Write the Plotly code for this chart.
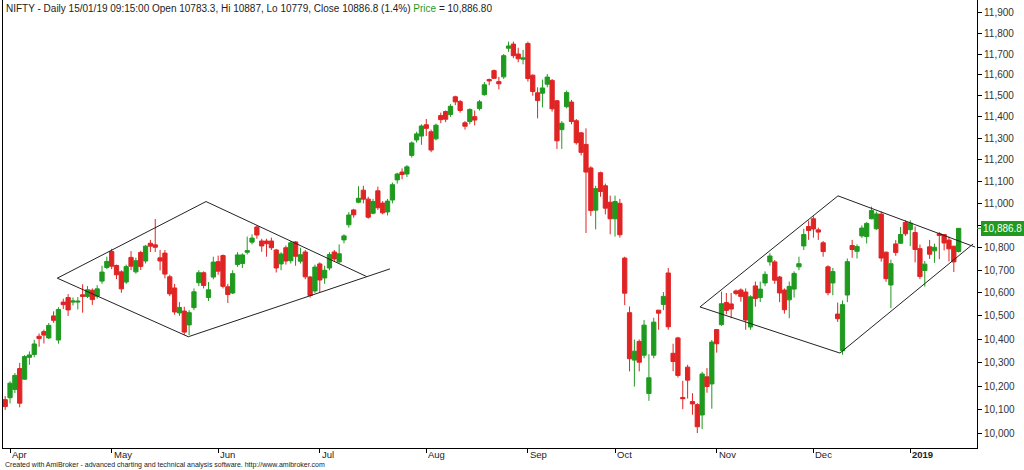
import numpy as np
import pandas as pd
import plotly.graph_objects as go

# ---------------- data ----------------
holidays = ["2018-03-29", "2018-03-30", "2018-05-01", "2018-08-15", "2018-08-22",
            "2018-09-13", "2018-09-20", "2018-10-02", "2018-10-18", "2018-11-08",
            "2018-11-23", "2018-12-25"]
dates = [d for d in pd.bdate_range("2018-03-28", "2019-01-15")
         if d.strftime("%Y-%m-%d") not in holidays]

opens = [
    10143, 10151, 10186, 10274, 10229, 10322, 10334, 10412, 10432, 10405,
    10500, 10396, 10560, 10580, 10560, 10560, 10592, 10585, 10612, 10586,
    10652, 10712, 10783, 10721, 10693, 10648, 10757, 10693, 10779, 10741,
    10820, 10813, 10755, 10776, 10671, 10622, 10513, 10521, 10461, 10536,
    10645, 10689, 10580, 10670, 10738, 10765, 10627, 10600, 10725, 10730,
    10780, 10825, 10893, 10830, 10830, 10830, 10790, 10728, 10800, 10742,
    10826, 10740, 10781, 10670, 10609, 10728, 10666, 10710, 10781, 10737,
    10835, 10903, 10970, 11005, 11060, 11019, 10955, 11057, 11001, 10961,
    11015, 11107, 11143, 11134, 11220, 11292, 11310, 11363, 11330, 11297,
    11406, 11425, 11411, 11495, 11472, 11372, 11378, 11401, 11439, 11505,
    11577, 11620, 11567, 11590, 11728, 11748, 11700, 11675, 11751, 11598,
    11514, 11512, 11555, 11573, 11476, 11340, 11448, 11470, 11382, 11325,
    11271, 11162, 10969, 11140, 11080, 11005, 10930, 11000, 10754, 10514,
    10310, 10390, 10331, 10169, 10331, 10525, 10550, 10688, 10339, 10405,
    10152, 10280, 10135, 10122, 10079, 10239, 10209, 10441, 10462, 10558,
    10552, 10609, 10613, 10604, 10452, 10631, 10580, 10644, 10737, 10737,
    10670, 10613, 10570, 10617, 10715, 10808, 10895, 10930, 10880, 10822,
    10715, 10644, 10508, 10350, 10591, 10810, 10784, 10853, 10850, 10930,
    10885, 10951, 10780, 10635, 10817, 10820, 10913, 10881, 10868, 10796,
    10699, 10804, 10786, 10863, 10859, 10834, 10807, 10783.3]

highs = [
    10158, 10220, 10255, 10298, 10331, 10347, 10397, 10424, 10441, 10469,
    10520, 10538, 10575, 10595, 10580, 10582, 10638, 10630, 10620, 10634,
    10720, 10760, 10795, 10725, 10700, 10725, 10785, 10756, 10786, 10812,
    10835, 10929, 10790, 10790, 10680, 10640, 10560, 10540, 10525, 10620,
    10700, 10695, 10648, 10760, 10765, 10770, 10640, 10700, 10780, 10775,
    10850, 10860, 10900, 10840, 10840, 10845, 10795, 10780, 10810, 10830,
    10830, 10800, 10790, 10675, 10725, 10735, 10720, 10780, 10790, 10815,
    10860, 10960, 10975, 11078, 11080, 11030, 11020, 11076, 11010, 11020,
    11095, 11140, 11160, 11175, 11285, 11330, 11365, 11390, 11340, 11368,
    11420, 11430, 11460, 11500, 11480, 11380, 11440, 11430, 11480, 11565,
    11582, 11625, 11590, 11700, 11760, 11760, 11730, 11720, 11760, 11602,
    11540, 11577, 11604, 11580, 11480, 11380, 11525, 11480, 11390, 11330,
    11346, 11170, 11080, 11145, 11090, 11035, 11035, 11020, 10760, 10541,
    10398, 10398, 10482, 10335, 10492, 10526, 10604, 10710, 10380, 10410,
    10222, 10290, 10170, 10128, 10260, 10276, 10396, 10441, 10606, 10600,
    10600, 10615, 10620, 10620, 10590, 10650, 10650, 10695, 10775, 10745,
    10675, 10620, 10650, 10695, 10760, 10885, 10922, 10941, 10890, 10830,
    10722, 10710, 10558, 10567, 10752, 10835, 10815, 10900, 10915, 10985,
    10962, 10963, 10783, 10747, 10834, 10893, 10923, 10923, 10895, 10814,
    10741, 10835, 10818, 10870, 10859, 10850, 10808, 10887]

lows = [
    10100, 10127, 10171, 10111, 10227, 10290, 10322, 10367, 10381, 10400,
    10470, 10380, 10530, 10500, 10545, 10528, 10514, 10578, 10548, 10575,
    10640, 10705, 10705, 10661, 10601, 10640, 10700, 10685, 10701, 10730,
    10781, 10781, 10699, 10664, 10586, 10505, 10500, 10418, 10417, 10525,
    10630, 10620, 10565, 10660, 10680, 10620, 10556, 10595, 10715, 10710,
    10770, 10815, 10840, 10782, 10760, 10790, 10690, 10700, 10725, 10730,
    10720, 10730, 10660, 10580, 10600, 10604, 10640, 10700, 10740, 10730,
    10820, 10890, 10935, 11000, 11000, 10930, 10950, 10970, 10950, 10945,
    11000, 11090, 11110, 11120, 11210, 11280, 11269, 11310, 11235, 11290,
    11370, 11375, 11400, 11455, 11420, 11340, 11365, 11360, 11430, 11500,
    11550, 11580, 11530, 11580, 11710, 11680, 11660, 11650, 11567, 11500,
    11393, 11445, 11540, 11425, 11250, 11250, 11440, 11365, 11270, 11220,
    10866, 10943, 10882, 11030, 10950, 10860, 10850, 10845, 10547, 10262,
    10198, 10262, 10318, 10138, 10318, 10440, 10525, 10440, 10263, 10236,
    10103, 10148, 10080, 10004, 10020, 10172, 10105, 10342, 10457, 10507,
    10490, 10590, 10562, 10440, 10440, 10540, 10560, 10630, 10720, 10640,
    10560, 10510, 10490, 10580, 10700, 10790, 10835, 10845, 10835, 10760,
    10590, 10590, 10474, 10333, 10560, 10755, 10752, 10844, 10819, 10928,
    10880, 10738, 10649, 10534, 10764, 10817, 10853, 10807, 10735, 10661,
    10628, 10750, 10733, 10749, 10788, 10739, 10692, 10779]

closes = [
    10114, 10212, 10245, 10128, 10325, 10332, 10379, 10402, 10417, 10459,
    10481, 10528, 10549, 10526, 10565, 10564, 10585, 10614, 10571, 10618,
    10692, 10739, 10718, 10680, 10618, 10716, 10718, 10742, 10717, 10807,
    10807, 10802, 10741, 10683, 10596, 10517, 10537, 10430, 10514, 10605,
    10689, 10633, 10614, 10736, 10696, 10629, 10593, 10685, 10768, 10768,
    10787, 10843, 10857, 10808, 10818, 10800, 10710, 10772, 10741, 10822,
    10762, 10769, 10671, 10589, 10714, 10657, 10700, 10770, 10750, 10773,
    10853, 10947, 10948, 11023, 11019, 10937, 11008, 10980, 10957, 11010,
    11085, 11134, 11132, 11167, 11278, 11320, 11357, 11346, 11245, 11361,
    11387, 11389, 11450, 11471, 11430, 11356, 11435, 11385, 11471, 11552,
    11571, 11583, 11557, 11692, 11739, 11692, 11677, 11681, 11582, 11520,
    11477, 11537, 11589, 11438, 11288, 11370, 11515, 11378, 11279, 11234,
    11143, 10967, 11067, 11054, 10978, 10930, 11008, 10858, 10599, 10316,
    10348, 10301, 10460, 10235, 10473, 10512, 10585, 10453, 10304, 10245,
    10147, 10225, 10125, 10030, 10251, 10198, 10387, 10380, 10553, 10524,
    10530, 10598, 10585, 10482, 10583, 10576, 10617, 10682, 10763, 10656,
    10600, 10527, 10629, 10686, 10729, 10859, 10877, 10884, 10870, 10783,
    10601, 10694, 10488, 10549, 10738, 10792, 10805, 10888, 10909, 10967,
    10952, 10754, 10663, 10729, 10779, 10859, 10862, 10910, 10792, 10672,
    10727, 10771, 10802, 10855, 10821, 10795, 10737, 10886.8]

# trendlines drawn on the chart: (bar position, price) pairs; None separates segments
trend_x = [10.76, 41.49, None, 10.76, 37.83, None, 41.49, 74.7, None, 37.83, 79.5, None,
           143.55, 172.07, None, 143.55, 172.48, None, 172.07, 200.4, None, 172.48, 200.0]
trend_y = [10665, 11008, None, 10665, 10410, None, 11008, 10672, None, 10410, 10706, None,
           10539, 11034, None, 10539, 10340, None, 11034, 10803, None, 10340, 10817]

price_ticks = list(range(10000, 12000, 100))
month_names = {4: "Apr", 5: "May", 6: "Jun", 7: "Jul", 8: "Aug", 9: "Sep",
               10: "Oct", 11: "Nov", 12: "Dec", 1: "2019"}

# ---------------- figure ----------------
GREEN = "#1f9a1f"
RED = "#e02424"
FONT = "Liberation Sans, Arial, sans-serif"

idx = list(range(len(dates)))
fig = go.Figure()
fig.add_trace(go.Candlestick(
    x=idx, open=opens, high=highs, low=lows, close=closes,
    increasing=dict(line=dict(color=GREEN, width=1), fillcolor=GREEN),
    decreasing=dict(line=dict(color=RED, width=1), fillcolor=RED),
    whiskerwidth=0, showlegend=False, hoverinfo="skip"))

fig.add_trace(go.Scatter(x=trend_x, y=trend_y, mode="lines",
                         line=dict(color="#222222", width=1),
                         showlegend=False, hoverinfo="skip", connectgaps=False))

tick_idx, tick_txt = [], []
for i, d in enumerate(dates):
    if i == 0 or d.month != dates[i - 1].month:
        if i == 0 and d.month == 3:
            continue
        tick_idx.append(i)
        tick_txt.append("<b>2019</b>" if d.month == 1 else month_names[d.month])

last_close = closes[-1]
# the 10,900 label is hidden behind the last-price marker in the original
ytick_text = ["" if abs(v - last_close) < 40 else f"{v:,}" for v in price_ticks]

ylo, yhi = 9942.3, 11964.0
fig.update_layout(
    width=1024, height=470,
    margin=dict(l=3, r=47, t=0, b=22),
    paper_bgcolor="white", plot_bgcolor="white",
    font=dict(family=FONT, size=10, color="#222222"),
    boxgap=0.12, boxgroupgap=0,
    xaxis=dict(range=[-0.455, 200.79], showgrid=False, zeroline=False,
               rangeslider=dict(visible=False),
               tickmode="array", tickvals=tick_idx, showticklabels=False,
               ticks="outside", ticklen=4, tickcolor="#000000",
               showline=True, linecolor="#000000", linewidth=1, mirror=True),
    yaxis=dict(type="log", range=[np.log10(ylo), np.log10(yhi)],
               side="right", showgrid=False, zeroline=False,
               tickmode="array", tickvals=price_ticks, ticktext=ytick_text,
               ticks="outside", ticklen=4, tickcolor="#000000",
               tickfont=dict(size=10, color="#333333", family=FONT),
               showline=True, linecolor="#000000", linewidth=1, mirror=True),
)

# month labels sit just right of their tick marks, directly under the frame
for ti, tt in zip(tick_idx, tick_txt):
    fig.add_annotation(xref="x", yref="paper", x=ti, y=0, xanchor="left", yanchor="top",
                       xshift=1, yshift=0, borderpad=0, text=tt, showarrow=False,
                       font=dict(size=9.5, color="#222222", family=FONT))

fig.add_annotation(
    xref="paper", yref="y", x=1, y=np.log10(last_close),
    text=f"{last_close:,.1f}", showarrow=True, arrowhead=0, arrowwidth=1,
    arrowcolor=GREEN, ax=25, ay=0, axref="pixel", ayref="pixel",
    bgcolor=GREEN, bordercolor=GREEN, borderpad=1,
    font=dict(color="white", size=10, family=FONT))

header = ("NIFTY - Daily 15/01/19 09:15:00 Open 10783.3, Hi 10887, Lo 10779, "
          "Close 10886.8 (1.4%) <span style='color:#1f9a1f'>Price</span> = 10,886.80")
fig.add_annotation(xref="paper", yref="paper", x=0, y=1, xanchor="left", yanchor="top",
                   xshift=1, yshift=-1, text=header, showarrow=False,
                   font=dict(size=10, color="#222222", family=FONT))
fig.add_annotation(xref="paper", yref="paper", x=0, y=0, xanchor="left", yanchor="bottom",
                   xshift=1, yshift=-22, borderpad=0,
                   text="Created with AmiBroker - advanced charting and technical analysis software. http://www.amibroker.com",
                   showarrow=False, font=dict(size=7, color="#222222", family=FONT))

fig.write_html("out.html")
